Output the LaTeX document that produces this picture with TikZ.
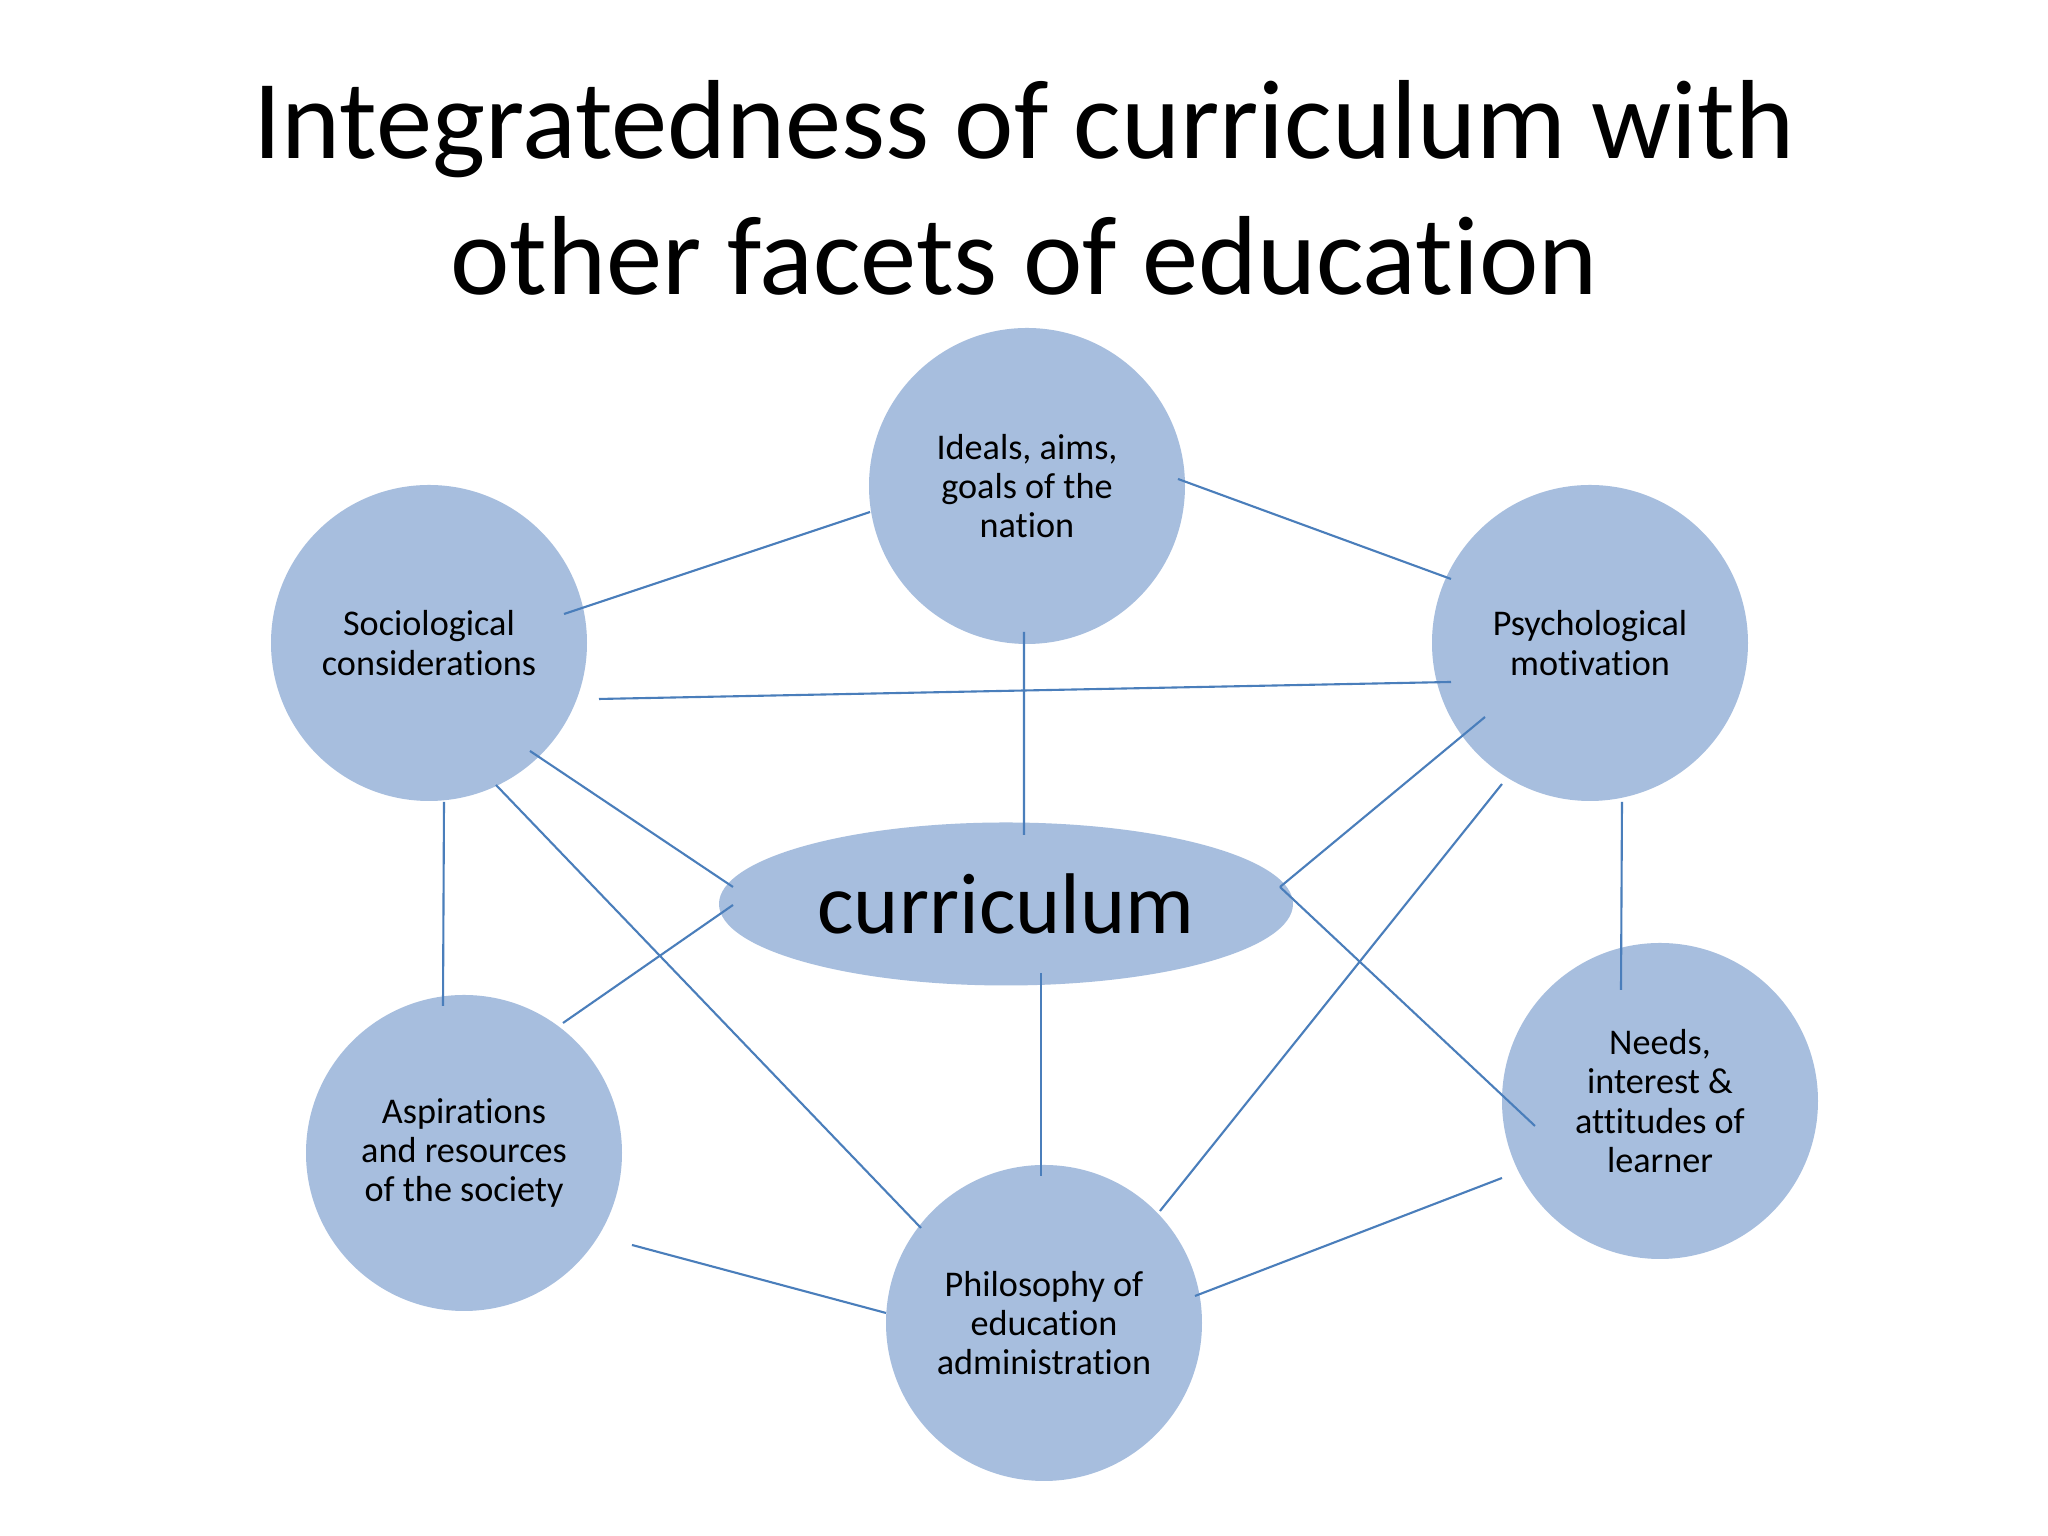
\documentclass[tikz,border=0pt]{standalone}
\usepackage{fontspec}
\setmainfont{Carlito}[Ligatures={NoCommon}]
\usetikzlibrary{calc,shapes.geometric}
\definecolor{bubble}{RGB}{167,190,222}
\definecolor{linkblue}{RGB}{74,126,187}
\begin{document}
\begin{tikzpicture}[facet/.style = {circle, fill=bubble, minimum size=3.16cm, inner sep=0pt, align=center, font=\fontsize{10.3}{11.2}\selectfont},
  core/.style = {ellipse, fill=bubble, minimum width=5.74cm, minimum height=1.63cm, inner sep=0pt, font=\fontsize{24.5}{28}\selectfont},
  headline/.style = {anchor=base, inner sep=0pt, font=\fontsize{32}{39}\selectfont},
  link/.style = {draw=linkblue, line width=0.6pt}]
\useasboundingbox (0,0) rectangle (20.48,15.36);
\fill[white] (0,0) rectangle (20.48,15.36);
% title
\node[headline] (title1) at (10.24,13.77) {Integratedness of curriculum with};
\node[headline] (title2) at (10.24,12.41) {other facets of education};
% facets
\node[facet] (ideals) at (10.27,10.50) {Ideals, aims,\\goals of the\\nation};
\node[facet] (soc) at (4.29,8.93) {Sociological\\considerations};
\node[facet] (psych) at (15.90,8.93) {Psychological\\motivation};
\node[core] (curr) at (10.06,6.32) {curriculum};
\node[facet] (asp) at (4.64,3.83) {Aspirations\\and resources\\of the society};
\node[facet] (needs) at (16.60,4.35) {Needs,\\interest \&\\attitudes of\\learner};
\node[facet] (phil) at (10.44,2.13) {Philosophy of\\education\\administration};
% links
\draw[link] ($(soc)+(1.35,0.29)$) -- ($(ideals)+(-1.57,-0.26)$);
\draw[link] ($(ideals)+(1.51,0.07)$) -- ($(psych)+(-1.39,0.64)$);
\draw[link] ($(soc)+(1.70,-0.56)$) -- ($(psych)+(-1.39,-0.39)$);
\draw[link] ($(ideals)+(-0.03,-1.46)$) -- ($(curr)+(0.18,0.69)$);
\draw[link] ($(soc)+(1.01,-1.08)$) -- ($(curr)+(-2.73,0.17)$);
\draw[link] ($(soc)+(0.15,-1.59)$) -- ($(asp)+(-0.21,1.47)$);
\draw[link] ($(soc)+(0.67,-1.42)$) -- ($(phil)+(-1.23,0.95)$);
\draw[link] ($(psych)+(-1.05,-0.74)$) -- ($(curr)+(2.74,0.17)$);
\draw[link] ($(psych)+(-0.88,-1.41)$) -- ($(phil)+(1.16,1.12)$);
\draw[link] ($(psych)+(0.32,-1.59)$) -- ($(needs)+(-0.39,1.11)$);
\draw[link] ($(curr)+(2.74,0.17)$) -- ($(needs)+(-1.25,-0.25)$);
\draw[link] ($(curr)+(-2.73,-0.01)$) -- ($(asp)+(0.99,1.30)$);
\draw[link] ($(curr)+(0.35,-0.69)$) -- ($(phil)+(-0.03,1.47)$);
\draw[link] ($(asp)+(1.68,-0.92)$) -- ($(phil)+(-1.58,0.10)$);
\draw[link] ($(needs)+(-1.58,-0.77)$) -- ($(phil)+(1.51,0.27)$);
\end{tikzpicture}
\end{document}
